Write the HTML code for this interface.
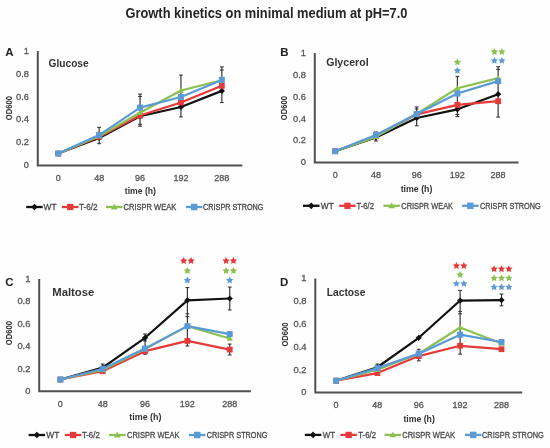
<!DOCTYPE html>
<html><head><meta charset="utf-8"><style>
html,body{margin:0;padding:0;background:#fff;}
body{width:550px;height:448px;overflow:hidden;}
svg{display:block;font-family:"Liberation Sans", sans-serif;will-change:transform;}
</style></head><body>
<svg width="550" height="448" viewBox="0 0 550 448">
<g>
<rect width="550" height="448" fill="#fefefe"/>
<text x="125.5" y="18.0" font-size="14.5" font-weight="bold" fill="#262626" textLength="282" lengthAdjust="spacingAndGlyphs">Growth kinetics on minimal medium at pH=7.0</text>
<text x="29.00" y="168.15" font-size="9.3" fill="#555555" text-anchor="end" stroke="#555" stroke-width="0.3">0</text>
<text x="29.00" y="145.29" font-size="9.3" fill="#555555" text-anchor="end" stroke="#555" stroke-width="0.3">0.2</text>
<text x="29.00" y="122.43" font-size="9.3" fill="#555555" text-anchor="end" stroke="#555" stroke-width="0.3">0.4</text>
<text x="29.00" y="99.57" font-size="9.3" fill="#555555" text-anchor="end" stroke="#555" stroke-width="0.3">0.6</text>
<text x="29.00" y="76.71" font-size="9.3" fill="#555555" text-anchor="end" stroke="#555" stroke-width="0.3">0.8</text>
<text x="29.00" y="53.85" font-size="9.3" fill="#555555" text-anchor="end" stroke="#555" stroke-width="0.3">1</text>
<text x="58.25" y="180.80" font-size="9.0" fill="#555555" text-anchor="middle" stroke="#555" stroke-width="0.3">0</text>
<text x="99.15" y="180.80" font-size="9.0" fill="#555555" text-anchor="middle" stroke="#555" stroke-width="0.3">48</text>
<text x="140.05" y="180.80" font-size="9.0" fill="#555555" text-anchor="middle" stroke="#555" stroke-width="0.3">96</text>
<text x="180.95" y="180.80" font-size="9.0" fill="#555555" text-anchor="middle" stroke="#555" stroke-width="0.3">192</text>
<text x="221.85" y="180.80" font-size="9.0" fill="#555555" text-anchor="middle" stroke="#555" stroke-width="0.3">288</text>
<path d="M37.80,51.10 L37.80,165.40 L242.30,165.40" fill="none" stroke="#505050" stroke-width="2"/>
<text x="124.80" y="194.40" font-size="8.5" fill="#333" text-anchor="start" font-weight="bold" textLength="31.2" lengthAdjust="spacingAndGlyphs">time (h)</text>
<text x="0" y="0" font-size="8.8" font-weight="bold" fill="#333" text-anchor="middle" textLength="24.2" lengthAdjust="spacingAndGlyphs" transform="translate(8.80,108.20) rotate(-90) translate(0,3.1)">OD600</text>
<text x="5.30" y="56.20" font-size="11.5" fill="#222" text-anchor="start" font-weight="bold">A</text>
<text x="48.50" y="67.00" font-size="11.2" fill="#333" text-anchor="start" font-weight="bold" textLength="40.2" lengthAdjust="spacingAndGlyphs">Glucose</text>
<line x1="99.15" y1="127.34" x2="99.15" y2="143.68" stroke="#383838" stroke-width="1.2"/>
<line x1="97.25" y1="143.68" x2="101.05" y2="143.68" stroke="#383838" stroke-width="1.1"/>
<line x1="97.25" y1="127.34" x2="101.05" y2="127.34" stroke="#383838" stroke-width="1.1"/>
<line x1="140.05" y1="94.08" x2="140.05" y2="126.20" stroke="#383838" stroke-width="1.2"/>
<line x1="138.15" y1="126.20" x2="141.95" y2="126.20" stroke="#383838" stroke-width="1.1"/>
<line x1="138.15" y1="94.08" x2="141.95" y2="94.08" stroke="#383838" stroke-width="1.1"/>
<line x1="138.15" y1="96.48" x2="141.95" y2="96.48" stroke="#383838" stroke-width="1.1"/>
<line x1="138.15" y1="124.25" x2="141.95" y2="124.25" stroke="#383838" stroke-width="1.1"/>
<line x1="180.95" y1="75.10" x2="180.95" y2="116.94" stroke="#383838" stroke-width="1.2"/>
<line x1="179.05" y1="116.94" x2="182.85" y2="116.94" stroke="#383838" stroke-width="1.1"/>
<line x1="179.05" y1="75.10" x2="182.85" y2="75.10" stroke="#383838" stroke-width="1.1"/>
<line x1="221.85" y1="66.87" x2="221.85" y2="102.53" stroke="#383838" stroke-width="1.2"/>
<line x1="219.95" y1="102.53" x2="223.75" y2="102.53" stroke="#383838" stroke-width="1.1"/>
<line x1="219.95" y1="66.87" x2="223.75" y2="66.87" stroke="#383838" stroke-width="1.1"/>
<line x1="219.95" y1="69.96" x2="223.75" y2="69.96" stroke="#383838" stroke-width="1.1"/>
<path d="M58.25,153.51 L99.15,137.97 L140.05,116.25 L180.95,106.99 L221.85,90.88" fill="none" stroke="#111111" stroke-width="2.2" stroke-linejoin="round"/>
<path d="M58.25,150.41 L61.35,153.51 L58.25,156.61 L55.15,153.51Z" fill="#111111"/>
<path d="M99.15,134.87 L102.25,137.97 L99.15,141.07 L96.05,137.97Z" fill="#111111"/>
<path d="M140.05,113.15 L143.15,116.25 L140.05,119.35 L136.95,116.25Z" fill="#111111"/>
<path d="M180.95,103.89 L184.05,106.99 L180.95,110.09 L177.85,106.99Z" fill="#111111"/>
<path d="M221.85,87.78 L224.95,90.88 L221.85,93.98 L218.75,90.88Z" fill="#111111"/>
<path d="M58.25,153.51 L99.15,136.82 L140.05,115.57 L180.95,102.53 L221.85,85.85" fill="none" stroke="#e53a3a" stroke-width="2.2" stroke-linejoin="round"/>
<rect x="55.35" y="150.61" width="5.80" height="5.80" fill="#e53a3a"/>
<rect x="96.25" y="133.92" width="5.80" height="5.80" fill="#e53a3a"/>
<rect x="137.15" y="112.67" width="5.80" height="5.80" fill="#e53a3a"/>
<rect x="178.05" y="99.63" width="5.80" height="5.80" fill="#e53a3a"/>
<rect x="218.95" y="82.95" width="5.80" height="5.80" fill="#e53a3a"/>
<path d="M58.25,153.51 L99.15,136.25 L140.05,112.82 L180.95,90.53 L221.85,80.25" fill="none" stroke="#8cc152" stroke-width="2.2" stroke-linejoin="round"/>
<path d="M58.25,150.51 L61.40,155.76 L55.10,155.76Z" fill="#8cc152"/>
<path d="M99.15,133.25 L102.30,138.50 L96.00,138.50Z" fill="#8cc152"/>
<path d="M140.05,109.82 L143.20,115.07 L136.90,115.07Z" fill="#8cc152"/>
<path d="M180.95,87.53 L184.10,92.78 L177.80,92.78Z" fill="#8cc152"/>
<path d="M221.85,77.25 L225.00,82.50 L218.70,82.50Z" fill="#8cc152"/>
<path d="M58.25,153.51 L99.15,135.11 L140.05,107.56 L180.95,97.05 L221.85,79.90" fill="none" stroke="#5b9bd5" stroke-width="2.2" stroke-linejoin="round"/>
<rect x="55.25" y="150.51" width="6.00" height="6.00" fill="#5b9bd5"/>
<rect x="96.15" y="132.11" width="6.00" height="6.00" fill="#5b9bd5"/>
<rect x="137.05" y="104.56" width="6.00" height="6.00" fill="#5b9bd5"/>
<rect x="177.95" y="94.05" width="6.00" height="6.00" fill="#5b9bd5"/>
<rect x="218.85" y="76.90" width="6.00" height="6.00" fill="#5b9bd5"/>
<line x1="26.20" y1="207.00" x2="42.70" y2="207.00" stroke="#111111" stroke-width="2.3"/>
<path d="M34.45,203.65 L37.80,207.00 L34.45,210.35 L31.10,207.00Z" fill="#111111"/>
<text x="43.60" y="210.00" font-size="9.3" fill="#474747" text-anchor="start" textLength="13.0" lengthAdjust="spacingAndGlyphs" stroke="#474747" stroke-width="0.3">WT</text>
<line x1="62.00" y1="207.00" x2="78.50" y2="207.00" stroke="#e53a3a" stroke-width="2.3"/>
<rect x="67.12" y="203.87" width="6.26" height="6.26" fill="#e53a3a"/>
<text x="79.00" y="210.00" font-size="9.3" fill="#474747" text-anchor="start" textLength="18.5" lengthAdjust="spacingAndGlyphs" stroke="#474747" stroke-width="0.3">T-6/2</text>
<line x1="106.00" y1="207.00" x2="122.50" y2="207.00" stroke="#8cc152" stroke-width="2.3"/>
<path d="M114.25,203.76 L117.65,209.43 L110.85,209.43Z" fill="#8cc152"/>
<text x="123.60" y="210.00" font-size="9.3" fill="#474747" text-anchor="start" textLength="52.7" lengthAdjust="spacingAndGlyphs" stroke="#474747" stroke-width="0.3">CRISPR WEAK</text>
<line x1="185.90" y1="207.00" x2="202.40" y2="207.00" stroke="#5b9bd5" stroke-width="2.3"/>
<rect x="190.91" y="203.76" width="6.48" height="6.48" fill="#5b9bd5"/>
<text x="203.10" y="210.00" font-size="9.3" fill="#474747" text-anchor="start" textLength="60.4" lengthAdjust="spacingAndGlyphs" stroke="#474747" stroke-width="0.3">CRISPR STRONG</text>
<text x="306.00" y="165.35" font-size="9.3" fill="#555555" text-anchor="end" stroke="#555" stroke-width="0.3">0</text>
<text x="306.00" y="143.43" font-size="9.3" fill="#555555" text-anchor="end" stroke="#555" stroke-width="0.3">0.2</text>
<text x="306.00" y="121.51" font-size="9.3" fill="#555555" text-anchor="end" stroke="#555" stroke-width="0.3">0.4</text>
<text x="306.00" y="99.59" font-size="9.3" fill="#555555" text-anchor="end" stroke="#555" stroke-width="0.3">0.6</text>
<text x="306.00" y="77.67" font-size="9.3" fill="#555555" text-anchor="end" stroke="#555" stroke-width="0.3">0.8</text>
<text x="306.00" y="55.75" font-size="9.3" fill="#555555" text-anchor="end" stroke="#555" stroke-width="0.3">1</text>
<text x="335.17" y="177.80" font-size="9.0" fill="#555555" text-anchor="middle" stroke="#555" stroke-width="0.3">0</text>
<text x="375.91" y="177.80" font-size="9.0" fill="#555555" text-anchor="middle" stroke="#555" stroke-width="0.3">48</text>
<text x="416.65" y="177.80" font-size="9.0" fill="#555555" text-anchor="middle" stroke="#555" stroke-width="0.3">96</text>
<text x="457.39" y="177.80" font-size="9.0" fill="#555555" text-anchor="middle" stroke="#555" stroke-width="0.3">192</text>
<text x="498.13" y="177.80" font-size="9.0" fill="#555555" text-anchor="middle" stroke="#555" stroke-width="0.3">288</text>
<path d="M314.80,53.00 L314.80,162.60 L518.50,162.60" fill="none" stroke="#505050" stroke-width="2"/>
<text x="400.70" y="191.80" font-size="8.5" fill="#333" text-anchor="start" font-weight="bold" textLength="31.7" lengthAdjust="spacingAndGlyphs">time (h)</text>
<text x="0" y="0" font-size="8.8" font-weight="bold" fill="#333" text-anchor="middle" textLength="24.2" lengthAdjust="spacingAndGlyphs" transform="translate(284.20,108.20) rotate(-90) translate(0,3.1)">OD600</text>
<text x="280.30" y="55.90" font-size="11.5" fill="#222" text-anchor="start" font-weight="bold">B</text>
<text x="326.20" y="66.00" font-size="11.2" fill="#333" text-anchor="start" font-weight="bold" textLength="42.4" lengthAdjust="spacingAndGlyphs">Glycerol</text>
<line x1="375.91" y1="132.02" x2="375.91" y2="141.01" stroke="#383838" stroke-width="1.2"/>
<line x1="374.01" y1="141.01" x2="377.81" y2="141.01" stroke="#383838" stroke-width="1.1"/>
<line x1="374.01" y1="132.02" x2="377.81" y2="132.02" stroke="#383838" stroke-width="1.1"/>
<line x1="416.65" y1="106.92" x2="416.65" y2="125.77" stroke="#383838" stroke-width="1.2"/>
<line x1="414.75" y1="125.77" x2="418.55" y2="125.77" stroke="#383838" stroke-width="1.1"/>
<line x1="414.75" y1="106.92" x2="418.55" y2="106.92" stroke="#383838" stroke-width="1.1"/>
<line x1="414.75" y1="108.90" x2="418.55" y2="108.90" stroke="#383838" stroke-width="1.1"/>
<line x1="457.39" y1="76.45" x2="457.39" y2="116.57" stroke="#383838" stroke-width="1.2"/>
<line x1="455.49" y1="116.57" x2="459.29" y2="116.57" stroke="#383838" stroke-width="1.1"/>
<line x1="455.49" y1="76.45" x2="459.29" y2="76.45" stroke="#383838" stroke-width="1.1"/>
<line x1="455.49" y1="114.38" x2="459.29" y2="114.38" stroke="#383838" stroke-width="1.1"/>
<line x1="498.13" y1="66.70" x2="498.13" y2="117.12" stroke="#383838" stroke-width="1.2"/>
<line x1="496.23" y1="117.12" x2="500.03" y2="117.12" stroke="#383838" stroke-width="1.1"/>
<line x1="496.23" y1="66.70" x2="500.03" y2="66.70" stroke="#383838" stroke-width="1.1"/>
<line x1="496.23" y1="69.44" x2="500.03" y2="69.44" stroke="#383838" stroke-width="1.1"/>
<path d="M335.17,151.20 L375.91,137.39 L416.65,117.99 L457.39,109.33 L498.13,94.21" fill="none" stroke="#111111" stroke-width="2.2" stroke-linejoin="round"/>
<path d="M335.17,148.10 L338.27,151.20 L335.17,154.30 L332.07,151.20Z" fill="#111111"/>
<path d="M375.91,134.29 L379.01,137.39 L375.91,140.49 L372.81,137.39Z" fill="#111111"/>
<path d="M416.65,114.89 L419.75,117.99 L416.65,121.09 L413.55,117.99Z" fill="#111111"/>
<path d="M457.39,106.23 L460.49,109.33 L457.39,112.43 L454.29,109.33Z" fill="#111111"/>
<path d="M498.13,91.11 L501.23,94.21 L498.13,97.31 L495.03,94.21Z" fill="#111111"/>
<path d="M335.17,151.20 L375.91,136.30 L416.65,114.38 L457.39,104.84 L498.13,101.22" fill="none" stroke="#e53a3a" stroke-width="2.2" stroke-linejoin="round"/>
<rect x="332.27" y="148.30" width="5.80" height="5.80" fill="#e53a3a"/>
<rect x="373.01" y="133.40" width="5.80" height="5.80" fill="#e53a3a"/>
<rect x="413.75" y="111.48" width="5.80" height="5.80" fill="#e53a3a"/>
<rect x="454.49" y="101.94" width="5.80" height="5.80" fill="#e53a3a"/>
<rect x="495.23" y="98.32" width="5.80" height="5.80" fill="#e53a3a"/>
<path d="M335.17,151.20 L375.91,136.84 L416.65,113.83 L457.39,88.29 L498.13,78.10" fill="none" stroke="#8cc152" stroke-width="2.2" stroke-linejoin="round"/>
<path d="M335.17,148.20 L338.32,153.45 L332.02,153.45Z" fill="#8cc152"/>
<path d="M375.91,133.84 L379.06,139.09 L372.76,139.09Z" fill="#8cc152"/>
<path d="M416.65,110.83 L419.80,116.08 L413.50,116.08Z" fill="#8cc152"/>
<path d="M457.39,85.29 L460.54,90.54 L454.24,90.54Z" fill="#8cc152"/>
<path d="M498.13,75.10 L501.28,80.35 L494.98,80.35Z" fill="#8cc152"/>
<path d="M335.17,151.20 L375.91,134.98 L416.65,114.05 L457.39,93.55 L498.13,81.17" fill="none" stroke="#5b9bd5" stroke-width="2.2" stroke-linejoin="round"/>
<rect x="332.17" y="148.20" width="6.00" height="6.00" fill="#5b9bd5"/>
<rect x="372.91" y="131.98" width="6.00" height="6.00" fill="#5b9bd5"/>
<rect x="413.65" y="111.05" width="6.00" height="6.00" fill="#5b9bd5"/>
<rect x="454.39" y="90.55" width="6.00" height="6.00" fill="#5b9bd5"/>
<rect x="495.13" y="78.17" width="6.00" height="6.00" fill="#5b9bd5"/>
<path d="M457.39,58.50 L458.51,60.76 L461.00,61.13 L459.20,62.89 L459.62,65.37 L457.39,64.20 L455.16,65.37 L455.58,62.89 L453.78,61.13 L456.27,60.76Z" fill="#8cc152"/>
<path d="M457.39,66.80 L458.51,69.06 L461.00,69.43 L459.20,71.19 L459.62,73.67 L457.39,72.50 L455.16,73.67 L455.58,71.19 L453.78,69.43 L456.27,69.06Z" fill="#5b9bd5"/>
<path d="M494.43,48.10 L495.55,50.36 L498.04,50.73 L496.24,52.49 L496.66,54.97 L494.43,53.80 L492.20,54.97 L492.62,52.49 L490.82,50.73 L493.31,50.36Z" fill="#8cc152"/>
<path d="M501.83,48.10 L502.95,50.36 L505.44,50.73 L503.64,52.49 L504.06,54.97 L501.83,53.80 L499.60,54.97 L500.02,52.49 L498.22,50.73 L500.71,50.36Z" fill="#8cc152"/>
<path d="M494.43,56.90 L495.55,59.16 L498.04,59.53 L496.24,61.29 L496.66,63.77 L494.43,62.60 L492.20,63.77 L492.62,61.29 L490.82,59.53 L493.31,59.16Z" fill="#5b9bd5"/>
<path d="M501.83,56.90 L502.95,59.16 L505.44,59.53 L503.64,61.29 L504.06,63.77 L501.83,62.60 L499.60,63.77 L500.02,61.29 L498.22,59.53 L500.71,59.16Z" fill="#5b9bd5"/>
<line x1="303.00" y1="205.80" x2="319.50" y2="205.80" stroke="#111111" stroke-width="2.3"/>
<path d="M311.25,202.45 L314.60,205.80 L311.25,209.15 L307.90,205.80Z" fill="#111111"/>
<text x="320.80" y="208.80" font-size="9.3" fill="#474747" text-anchor="start" textLength="13.0" lengthAdjust="spacingAndGlyphs" stroke="#474747" stroke-width="0.3">WT</text>
<line x1="339.20" y1="205.80" x2="355.70" y2="205.80" stroke="#e53a3a" stroke-width="2.3"/>
<rect x="344.32" y="202.67" width="6.26" height="6.26" fill="#e53a3a"/>
<text x="356.40" y="208.80" font-size="9.3" fill="#474747" text-anchor="start" textLength="17.6" lengthAdjust="spacingAndGlyphs" stroke="#474747" stroke-width="0.3">T-6/2</text>
<line x1="383.40" y1="205.80" x2="399.90" y2="205.80" stroke="#8cc152" stroke-width="2.3"/>
<path d="M391.65,202.56 L395.05,208.23 L388.25,208.23Z" fill="#8cc152"/>
<text x="401.30" y="208.80" font-size="9.3" fill="#474747" text-anchor="start" textLength="51.7" lengthAdjust="spacingAndGlyphs" stroke="#474747" stroke-width="0.3">CRISPR WEAK</text>
<line x1="462.10" y1="205.80" x2="478.60" y2="205.80" stroke="#5b9bd5" stroke-width="2.3"/>
<rect x="467.11" y="202.56" width="6.48" height="6.48" fill="#5b9bd5"/>
<text x="480.00" y="208.80" font-size="9.3" fill="#474747" text-anchor="start" textLength="60.7" lengthAdjust="spacingAndGlyphs" stroke="#474747" stroke-width="0.3">CRISPR STRONG</text>
<text x="30.40" y="393.95" font-size="9.3" fill="#555555" text-anchor="end" stroke="#555" stroke-width="0.3">0</text>
<text x="30.40" y="371.51" font-size="9.3" fill="#555555" text-anchor="end" stroke="#555" stroke-width="0.3">0.2</text>
<text x="30.40" y="349.07" font-size="9.3" fill="#555555" text-anchor="end" stroke="#555" stroke-width="0.3">0.4</text>
<text x="30.40" y="326.63" font-size="9.3" fill="#555555" text-anchor="end" stroke="#555" stroke-width="0.3">0.6</text>
<text x="30.40" y="304.19" font-size="9.3" fill="#555555" text-anchor="end" stroke="#555" stroke-width="0.3">0.8</text>
<text x="30.40" y="281.75" font-size="9.3" fill="#555555" text-anchor="end" stroke="#555" stroke-width="0.3">1</text>
<text x="60.37" y="406.70" font-size="9.0" fill="#555555" text-anchor="middle" stroke="#555" stroke-width="0.3">0</text>
<text x="102.71" y="406.70" font-size="9.0" fill="#555555" text-anchor="middle" stroke="#555" stroke-width="0.3">48</text>
<text x="145.05" y="406.70" font-size="9.0" fill="#555555" text-anchor="middle" stroke="#555" stroke-width="0.3">96</text>
<text x="187.39" y="406.70" font-size="9.0" fill="#555555" text-anchor="middle" stroke="#555" stroke-width="0.3">192</text>
<text x="229.73" y="406.70" font-size="9.0" fill="#555555" text-anchor="middle" stroke="#555" stroke-width="0.3">288</text>
<path d="M39.20,279.00 L39.20,391.20 L250.90,391.20" fill="none" stroke="#505050" stroke-width="2"/>
<text x="129.30" y="420.20" font-size="8.5" fill="#333" text-anchor="start" font-weight="bold" textLength="32.2" lengthAdjust="spacingAndGlyphs">time (h)</text>
<text x="0" y="0" font-size="8.8" font-weight="bold" fill="#333" text-anchor="middle" textLength="24.2" lengthAdjust="spacingAndGlyphs" transform="translate(9.00,333.20) rotate(-90) translate(0,3.1)">OD600</text>
<text x="5.30" y="286.00" font-size="11.5" fill="#222" text-anchor="start" font-weight="bold">C</text>
<text x="52.20" y="295.80" font-size="11.2" fill="#333" text-anchor="start" font-weight="bold" textLength="42.2" lengthAdjust="spacingAndGlyphs">Maltose</text>
<line x1="102.71" y1="364.05" x2="102.71" y2="372.13" stroke="#383838" stroke-width="1.2"/>
<line x1="100.81" y1="372.13" x2="104.61" y2="372.13" stroke="#383838" stroke-width="1.1"/>
<line x1="100.81" y1="364.05" x2="104.61" y2="364.05" stroke="#383838" stroke-width="1.1"/>
<line x1="145.05" y1="333.98" x2="145.05" y2="354.17" stroke="#383838" stroke-width="1.2"/>
<line x1="143.15" y1="354.17" x2="146.95" y2="354.17" stroke="#383838" stroke-width="1.1"/>
<line x1="143.15" y1="333.98" x2="146.95" y2="333.98" stroke="#383838" stroke-width="1.1"/>
<line x1="143.15" y1="341.05" x2="146.95" y2="341.05" stroke="#383838" stroke-width="1.1"/>
<line x1="187.39" y1="287.53" x2="187.39" y2="345.98" stroke="#383838" stroke-width="1.2"/>
<line x1="185.49" y1="345.98" x2="189.29" y2="345.98" stroke="#383838" stroke-width="1.1"/>
<line x1="185.49" y1="287.53" x2="189.29" y2="287.53" stroke="#383838" stroke-width="1.1"/>
<line x1="185.49" y1="313.78" x2="189.29" y2="313.78" stroke="#383838" stroke-width="1.1"/>
<line x1="185.49" y1="316.59" x2="189.29" y2="316.59" stroke="#383838" stroke-width="1.1"/>
<line x1="229.73" y1="287.08" x2="229.73" y2="309.97" stroke="#383838" stroke-width="1.2"/>
<line x1="227.83" y1="309.97" x2="231.63" y2="309.97" stroke="#383838" stroke-width="1.1"/>
<line x1="227.83" y1="287.08" x2="231.63" y2="287.08" stroke="#383838" stroke-width="1.1"/>
<line x1="229.73" y1="344.08" x2="229.73" y2="354.96" stroke="#383838" stroke-width="1.2"/>
<line x1="227.83" y1="354.96" x2="231.63" y2="354.96" stroke="#383838" stroke-width="1.1"/>
<line x1="227.83" y1="344.08" x2="231.63" y2="344.08" stroke="#383838" stroke-width="1.1"/>
<path d="M60.37,379.53 L102.71,367.64 L145.05,337.79 L187.39,300.32 L229.73,298.52" fill="none" stroke="#111111" stroke-width="2.2" stroke-linejoin="round"/>
<path d="M60.37,376.43 L63.47,379.53 L60.37,382.63 L57.27,379.53Z" fill="#111111"/>
<path d="M102.71,364.54 L105.81,367.64 L102.71,370.74 L99.61,367.64Z" fill="#111111"/>
<path d="M145.05,334.69 L148.15,337.79 L145.05,340.89 L141.95,337.79Z" fill="#111111"/>
<path d="M187.39,297.22 L190.49,300.32 L187.39,303.42 L184.29,300.32Z" fill="#111111"/>
<path d="M229.73,295.42 L232.83,298.52 L229.73,301.62 L226.63,298.52Z" fill="#111111"/>
<path d="M60.37,379.53 L102.71,371.23 L145.05,351.14 L187.39,340.93 L229.73,349.57" fill="none" stroke="#e53a3a" stroke-width="2.2" stroke-linejoin="round"/>
<rect x="57.47" y="376.63" width="5.80" height="5.80" fill="#e53a3a"/>
<rect x="99.81" y="368.33" width="5.80" height="5.80" fill="#e53a3a"/>
<rect x="142.15" y="348.24" width="5.80" height="5.80" fill="#e53a3a"/>
<rect x="184.49" y="338.03" width="5.80" height="5.80" fill="#e53a3a"/>
<rect x="226.83" y="346.67" width="5.80" height="5.80" fill="#e53a3a"/>
<path d="M60.37,379.53 L102.71,369.88 L145.05,349.12 L187.39,326.12 L229.73,338.47" fill="none" stroke="#8cc152" stroke-width="2.2" stroke-linejoin="round"/>
<path d="M60.37,376.53 L63.52,381.78 L57.22,381.78Z" fill="#8cc152"/>
<path d="M102.71,366.88 L105.86,372.13 L99.56,372.13Z" fill="#8cc152"/>
<path d="M145.05,346.12 L148.20,351.38 L141.90,351.38Z" fill="#8cc152"/>
<path d="M187.39,323.12 L190.54,328.37 L184.24,328.37Z" fill="#8cc152"/>
<path d="M229.73,335.47 L232.88,340.72 L226.58,340.72Z" fill="#8cc152"/>
<path d="M60.37,379.53 L102.71,368.76 L145.05,348.56 L187.39,326.12 L229.73,334.09" fill="none" stroke="#5b9bd5" stroke-width="2.2" stroke-linejoin="round"/>
<rect x="57.37" y="376.53" width="6.00" height="6.00" fill="#5b9bd5"/>
<rect x="99.71" y="365.76" width="6.00" height="6.00" fill="#5b9bd5"/>
<rect x="142.05" y="345.56" width="6.00" height="6.00" fill="#5b9bd5"/>
<rect x="184.39" y="323.12" width="6.00" height="6.00" fill="#5b9bd5"/>
<rect x="226.73" y="331.09" width="6.00" height="6.00" fill="#5b9bd5"/>
<path d="M183.69,257.10 L184.81,259.36 L187.30,259.73 L185.50,261.49 L185.92,263.97 L183.69,262.80 L181.46,263.97 L181.88,261.49 L180.08,259.73 L182.57,259.36Z" fill="#e53a3a"/>
<path d="M191.09,257.10 L192.21,259.36 L194.70,259.73 L192.90,261.49 L193.32,263.97 L191.09,262.80 L188.86,263.97 L189.28,261.49 L187.48,259.73 L189.97,259.36Z" fill="#e53a3a"/>
<path d="M187.39,267.10 L188.51,269.36 L191.00,269.73 L189.20,271.49 L189.62,273.97 L187.39,272.80 L185.16,273.97 L185.58,271.49 L183.78,269.73 L186.27,269.36Z" fill="#8cc152"/>
<path d="M187.39,276.50 L188.51,278.76 L191.00,279.13 L189.20,280.89 L189.62,283.37 L187.39,282.20 L185.16,283.37 L185.58,280.89 L183.78,279.13 L186.27,278.76Z" fill="#5b9bd5"/>
<path d="M226.03,257.10 L227.15,259.36 L229.64,259.73 L227.84,261.49 L228.26,263.97 L226.03,262.80 L223.80,263.97 L224.22,261.49 L222.42,259.73 L224.91,259.36Z" fill="#e53a3a"/>
<path d="M233.43,257.10 L234.55,259.36 L237.04,259.73 L235.24,261.49 L235.66,263.97 L233.43,262.80 L231.20,263.97 L231.62,261.49 L229.82,259.73 L232.31,259.36Z" fill="#e53a3a"/>
<path d="M226.03,267.10 L227.15,269.36 L229.64,269.73 L227.84,271.49 L228.26,273.97 L226.03,272.80 L223.80,273.97 L224.22,271.49 L222.42,269.73 L224.91,269.36Z" fill="#8cc152"/>
<path d="M233.43,267.10 L234.55,269.36 L237.04,269.73 L235.24,271.49 L235.66,273.97 L233.43,272.80 L231.20,273.97 L231.62,271.49 L229.82,269.73 L232.31,269.36Z" fill="#8cc152"/>
<path d="M229.73,276.50 L230.85,278.76 L233.34,279.13 L231.54,280.89 L231.96,283.37 L229.73,282.20 L227.50,283.37 L227.92,280.89 L226.12,279.13 L228.61,278.76Z" fill="#5b9bd5"/>
<line x1="28.60" y1="435.00" x2="45.10" y2="435.00" stroke="#111111" stroke-width="2.3"/>
<path d="M36.85,431.65 L40.20,435.00 L36.85,438.35 L33.50,435.00Z" fill="#111111"/>
<text x="46.30" y="438.00" font-size="9.3" fill="#474747" text-anchor="start" textLength="13.0" lengthAdjust="spacingAndGlyphs" stroke="#474747" stroke-width="0.3">WT</text>
<line x1="64.90" y1="435.00" x2="81.40" y2="435.00" stroke="#e53a3a" stroke-width="2.3"/>
<rect x="70.02" y="431.87" width="6.26" height="6.26" fill="#e53a3a"/>
<text x="81.90" y="438.00" font-size="9.3" fill="#474747" text-anchor="start" textLength="17.9" lengthAdjust="spacingAndGlyphs" stroke="#474747" stroke-width="0.3">T-6/2</text>
<line x1="109.10" y1="435.00" x2="125.60" y2="435.00" stroke="#8cc152" stroke-width="2.3"/>
<path d="M117.35,431.76 L120.75,437.43 L113.95,437.43Z" fill="#8cc152"/>
<text x="127.00" y="438.00" font-size="9.3" fill="#474747" text-anchor="start" textLength="52.5" lengthAdjust="spacingAndGlyphs" stroke="#474747" stroke-width="0.3">CRISPR WEAK</text>
<line x1="189.00" y1="435.00" x2="205.50" y2="435.00" stroke="#5b9bd5" stroke-width="2.3"/>
<rect x="194.01" y="431.76" width="6.48" height="6.48" fill="#5b9bd5"/>
<text x="206.70" y="438.00" font-size="9.3" fill="#474747" text-anchor="start" textLength="60.8" lengthAdjust="spacingAndGlyphs" stroke="#474747" stroke-width="0.3">CRISPR STRONG</text>
<text x="306.50" y="395.35" font-size="9.3" fill="#555555" text-anchor="end" stroke="#555" stroke-width="0.3">0</text>
<text x="306.50" y="372.51" font-size="9.3" fill="#555555" text-anchor="end" stroke="#555" stroke-width="0.3">0.2</text>
<text x="306.50" y="349.67" font-size="9.3" fill="#555555" text-anchor="end" stroke="#555" stroke-width="0.3">0.4</text>
<text x="306.50" y="326.83" font-size="9.3" fill="#555555" text-anchor="end" stroke="#555" stroke-width="0.3">0.6</text>
<text x="306.50" y="303.99" font-size="9.3" fill="#555555" text-anchor="end" stroke="#555" stroke-width="0.3">0.8</text>
<text x="306.50" y="281.15" font-size="9.3" fill="#555555" text-anchor="end" stroke="#555" stroke-width="0.3">1</text>
<text x="335.99" y="408.00" font-size="9.0" fill="#555555" text-anchor="middle" stroke="#555" stroke-width="0.3">0</text>
<text x="377.37" y="408.00" font-size="9.0" fill="#555555" text-anchor="middle" stroke="#555" stroke-width="0.3">48</text>
<text x="418.75" y="408.00" font-size="9.0" fill="#555555" text-anchor="middle" stroke="#555" stroke-width="0.3">96</text>
<text x="460.13" y="408.00" font-size="9.0" fill="#555555" text-anchor="middle" stroke="#555" stroke-width="0.3">192</text>
<text x="501.51" y="408.00" font-size="9.0" fill="#555555" text-anchor="middle" stroke="#555" stroke-width="0.3">288</text>
<path d="M315.30,278.40 L315.30,392.60 L522.20,392.60" fill="none" stroke="#505050" stroke-width="2"/>
<text x="403.40" y="422.00" font-size="8.5" fill="#333" text-anchor="start" font-weight="bold" textLength="31.4" lengthAdjust="spacingAndGlyphs">time (h)</text>
<text x="0" y="0" font-size="8.8" font-weight="bold" fill="#333" text-anchor="middle" textLength="24.2" lengthAdjust="spacingAndGlyphs" transform="translate(284.50,334.50) rotate(-90) translate(0,3.1)">OD600</text>
<text x="280.00" y="286.00" font-size="11.5" fill="#222" text-anchor="start" font-weight="bold">D</text>
<text x="326.80" y="295.80" font-size="11.2" fill="#333" text-anchor="start" font-weight="bold" textLength="38.6" lengthAdjust="spacingAndGlyphs">Lactose</text>
<line x1="377.37" y1="364.05" x2="377.37" y2="369.76" stroke="#383838" stroke-width="1.2"/>
<line x1="375.47" y1="369.76" x2="379.27" y2="369.76" stroke="#383838" stroke-width="1.1"/>
<line x1="375.47" y1="364.05" x2="379.27" y2="364.05" stroke="#383838" stroke-width="1.1"/>
<line x1="418.75" y1="349.32" x2="418.75" y2="360.85" stroke="#383838" stroke-width="1.2"/>
<line x1="416.85" y1="360.85" x2="420.65" y2="360.85" stroke="#383838" stroke-width="1.1"/>
<line x1="416.85" y1="349.32" x2="420.65" y2="349.32" stroke="#383838" stroke-width="1.1"/>
<line x1="460.13" y1="290.39" x2="460.13" y2="354.11" stroke="#383838" stroke-width="1.2"/>
<line x1="458.23" y1="354.11" x2="462.03" y2="354.11" stroke="#383838" stroke-width="1.1"/>
<line x1="458.23" y1="290.39" x2="462.03" y2="290.39" stroke="#383838" stroke-width="1.1"/>
<line x1="458.23" y1="311.52" x2="462.03" y2="311.52" stroke="#383838" stroke-width="1.1"/>
<line x1="458.23" y1="313.80" x2="462.03" y2="313.80" stroke="#383838" stroke-width="1.1"/>
<line x1="501.51" y1="294.05" x2="501.51" y2="305.81" stroke="#383838" stroke-width="1.2"/>
<line x1="499.61" y1="305.81" x2="503.41" y2="305.81" stroke="#383838" stroke-width="1.1"/>
<line x1="499.61" y1="294.05" x2="503.41" y2="294.05" stroke="#383838" stroke-width="1.1"/>
<path d="M335.99,380.72 L377.37,367.25 L418.75,337.78 L460.13,300.55 L501.51,300.10" fill="none" stroke="#111111" stroke-width="2.2" stroke-linejoin="round"/>
<path d="M335.99,377.62 L339.09,380.72 L335.99,383.82 L332.89,380.72Z" fill="#111111"/>
<path d="M377.37,364.15 L380.47,367.25 L377.37,370.35 L374.27,367.25Z" fill="#111111"/>
<path d="M418.75,334.68 L421.85,337.78 L418.75,340.88 L415.65,337.78Z" fill="#111111"/>
<path d="M460.13,297.45 L463.23,300.55 L460.13,303.65 L457.03,300.55Z" fill="#111111"/>
<path d="M501.51,297.00 L504.61,300.10 L501.51,303.20 L498.41,300.10Z" fill="#111111"/>
<path d="M335.99,380.72 L377.37,373.07 L418.75,356.06 L460.13,345.78 L501.51,349.20" fill="none" stroke="#e53a3a" stroke-width="2.2" stroke-linejoin="round"/>
<rect x="333.09" y="377.82" width="5.80" height="5.80" fill="#e53a3a"/>
<rect x="374.47" y="370.17" width="5.80" height="5.80" fill="#e53a3a"/>
<rect x="415.85" y="353.16" width="5.80" height="5.80" fill="#e53a3a"/>
<rect x="457.23" y="342.88" width="5.80" height="5.80" fill="#e53a3a"/>
<rect x="498.61" y="346.30" width="5.80" height="5.80" fill="#e53a3a"/>
<path d="M335.99,380.72 L377.37,369.76 L418.75,353.77 L460.13,327.51 L501.51,343.49" fill="none" stroke="#8cc152" stroke-width="2.2" stroke-linejoin="round"/>
<path d="M335.99,377.72 L339.14,382.97 L332.84,382.97Z" fill="#8cc152"/>
<path d="M377.37,366.76 L380.52,372.01 L374.22,372.01Z" fill="#8cc152"/>
<path d="M418.75,350.77 L421.90,356.02 L415.60,356.02Z" fill="#8cc152"/>
<path d="M460.13,324.51 L463.28,329.76 L456.98,329.76Z" fill="#8cc152"/>
<path d="M501.51,340.49 L504.66,345.74 L498.36,345.74Z" fill="#8cc152"/>
<path d="M335.99,380.72 L377.37,368.16 L418.75,353.66 L460.13,334.70 L501.51,342.01" fill="none" stroke="#5b9bd5" stroke-width="2.2" stroke-linejoin="round"/>
<rect x="332.99" y="377.72" width="6.00" height="6.00" fill="#5b9bd5"/>
<rect x="374.37" y="365.16" width="6.00" height="6.00" fill="#5b9bd5"/>
<rect x="415.75" y="350.66" width="6.00" height="6.00" fill="#5b9bd5"/>
<rect x="457.13" y="331.70" width="6.00" height="6.00" fill="#5b9bd5"/>
<rect x="498.51" y="339.01" width="6.00" height="6.00" fill="#5b9bd5"/>
<path d="M456.43,262.10 L457.55,264.36 L460.04,264.73 L458.24,266.49 L458.66,268.97 L456.43,267.80 L454.20,268.97 L454.62,266.49 L452.82,264.73 L455.31,264.36Z" fill="#e53a3a"/>
<path d="M463.83,262.10 L464.95,264.36 L467.44,264.73 L465.64,266.49 L466.06,268.97 L463.83,267.80 L461.60,268.97 L462.02,266.49 L460.22,264.73 L462.71,264.36Z" fill="#e53a3a"/>
<path d="M460.13,271.10 L461.25,273.36 L463.74,273.73 L461.94,275.49 L462.36,277.97 L460.13,276.80 L457.90,277.97 L458.32,275.49 L456.52,273.73 L459.01,273.36Z" fill="#8cc152"/>
<path d="M456.43,279.90 L457.55,282.16 L460.04,282.53 L458.24,284.29 L458.66,286.77 L456.43,285.60 L454.20,286.77 L454.62,284.29 L452.82,282.53 L455.31,282.16Z" fill="#5b9bd5"/>
<path d="M463.83,279.90 L464.95,282.16 L467.44,282.53 L465.64,284.29 L466.06,286.77 L463.83,285.60 L461.60,286.77 L462.02,284.29 L460.22,282.53 L462.71,282.16Z" fill="#5b9bd5"/>
<path d="M494.11,265.20 L495.23,267.46 L497.72,267.83 L495.92,269.59 L496.34,272.07 L494.11,270.90 L491.88,272.07 L492.30,269.59 L490.50,267.83 L492.99,267.46Z" fill="#e53a3a"/>
<path d="M501.51,265.20 L502.63,267.46 L505.12,267.83 L503.32,269.59 L503.74,272.07 L501.51,270.90 L499.28,272.07 L499.70,269.59 L497.90,267.83 L500.39,267.46Z" fill="#e53a3a"/>
<path d="M508.91,265.20 L510.03,267.46 L512.52,267.83 L510.72,269.59 L511.14,272.07 L508.91,270.90 L506.68,272.07 L507.10,269.59 L505.30,267.83 L507.79,267.46Z" fill="#e53a3a"/>
<path d="M494.11,274.40 L495.23,276.66 L497.72,277.03 L495.92,278.79 L496.34,281.27 L494.11,280.10 L491.88,281.27 L492.30,278.79 L490.50,277.03 L492.99,276.66Z" fill="#8cc152"/>
<path d="M501.51,274.40 L502.63,276.66 L505.12,277.03 L503.32,278.79 L503.74,281.27 L501.51,280.10 L499.28,281.27 L499.70,278.79 L497.90,277.03 L500.39,276.66Z" fill="#8cc152"/>
<path d="M508.91,274.40 L510.03,276.66 L512.52,277.03 L510.72,278.79 L511.14,281.27 L508.91,280.10 L506.68,281.27 L507.10,278.79 L505.30,277.03 L507.79,276.66Z" fill="#8cc152"/>
<path d="M494.11,283.40 L495.23,285.66 L497.72,286.03 L495.92,287.79 L496.34,290.27 L494.11,289.10 L491.88,290.27 L492.30,287.79 L490.50,286.03 L492.99,285.66Z" fill="#5b9bd5"/>
<path d="M501.51,283.40 L502.63,285.66 L505.12,286.03 L503.32,287.79 L503.74,290.27 L501.51,289.10 L499.28,290.27 L499.70,287.79 L497.90,286.03 L500.39,285.66Z" fill="#5b9bd5"/>
<path d="M508.91,283.40 L510.03,285.66 L512.52,286.03 L510.72,287.79 L511.14,290.27 L508.91,289.10 L506.68,290.27 L507.10,287.79 L505.30,286.03 L507.79,285.66Z" fill="#5b9bd5"/>
<line x1="304.80" y1="434.90" x2="321.30" y2="434.90" stroke="#111111" stroke-width="2.3"/>
<path d="M313.05,431.55 L316.40,434.90 L313.05,438.25 L309.70,434.90Z" fill="#111111"/>
<text x="322.80" y="437.90" font-size="9.3" fill="#474747" text-anchor="start" textLength="12.3" lengthAdjust="spacingAndGlyphs" stroke="#474747" stroke-width="0.3">WT</text>
<line x1="340.40" y1="434.90" x2="356.90" y2="434.90" stroke="#e53a3a" stroke-width="2.3"/>
<rect x="345.52" y="431.77" width="6.26" height="6.26" fill="#e53a3a"/>
<text x="358.20" y="437.90" font-size="9.3" fill="#474747" text-anchor="start" textLength="17.8" lengthAdjust="spacingAndGlyphs" stroke="#474747" stroke-width="0.3">T-6/2</text>
<line x1="384.60" y1="434.90" x2="401.10" y2="434.90" stroke="#8cc152" stroke-width="2.3"/>
<path d="M392.85,431.66 L396.25,437.33 L389.45,437.33Z" fill="#8cc152"/>
<text x="402.20" y="437.90" font-size="9.3" fill="#474747" text-anchor="start" textLength="52.8" lengthAdjust="spacingAndGlyphs" stroke="#474747" stroke-width="0.3">CRISPR WEAK</text>
<line x1="465.00" y1="434.90" x2="481.50" y2="434.90" stroke="#5b9bd5" stroke-width="2.3"/>
<rect x="470.01" y="431.66" width="6.48" height="6.48" fill="#5b9bd5"/>
<text x="482.00" y="437.90" font-size="9.3" fill="#474747" text-anchor="start" textLength="61.9" lengthAdjust="spacingAndGlyphs" stroke="#474747" stroke-width="0.3">CRISPR STRONG</text>
</g>
</svg>
</body></html>
